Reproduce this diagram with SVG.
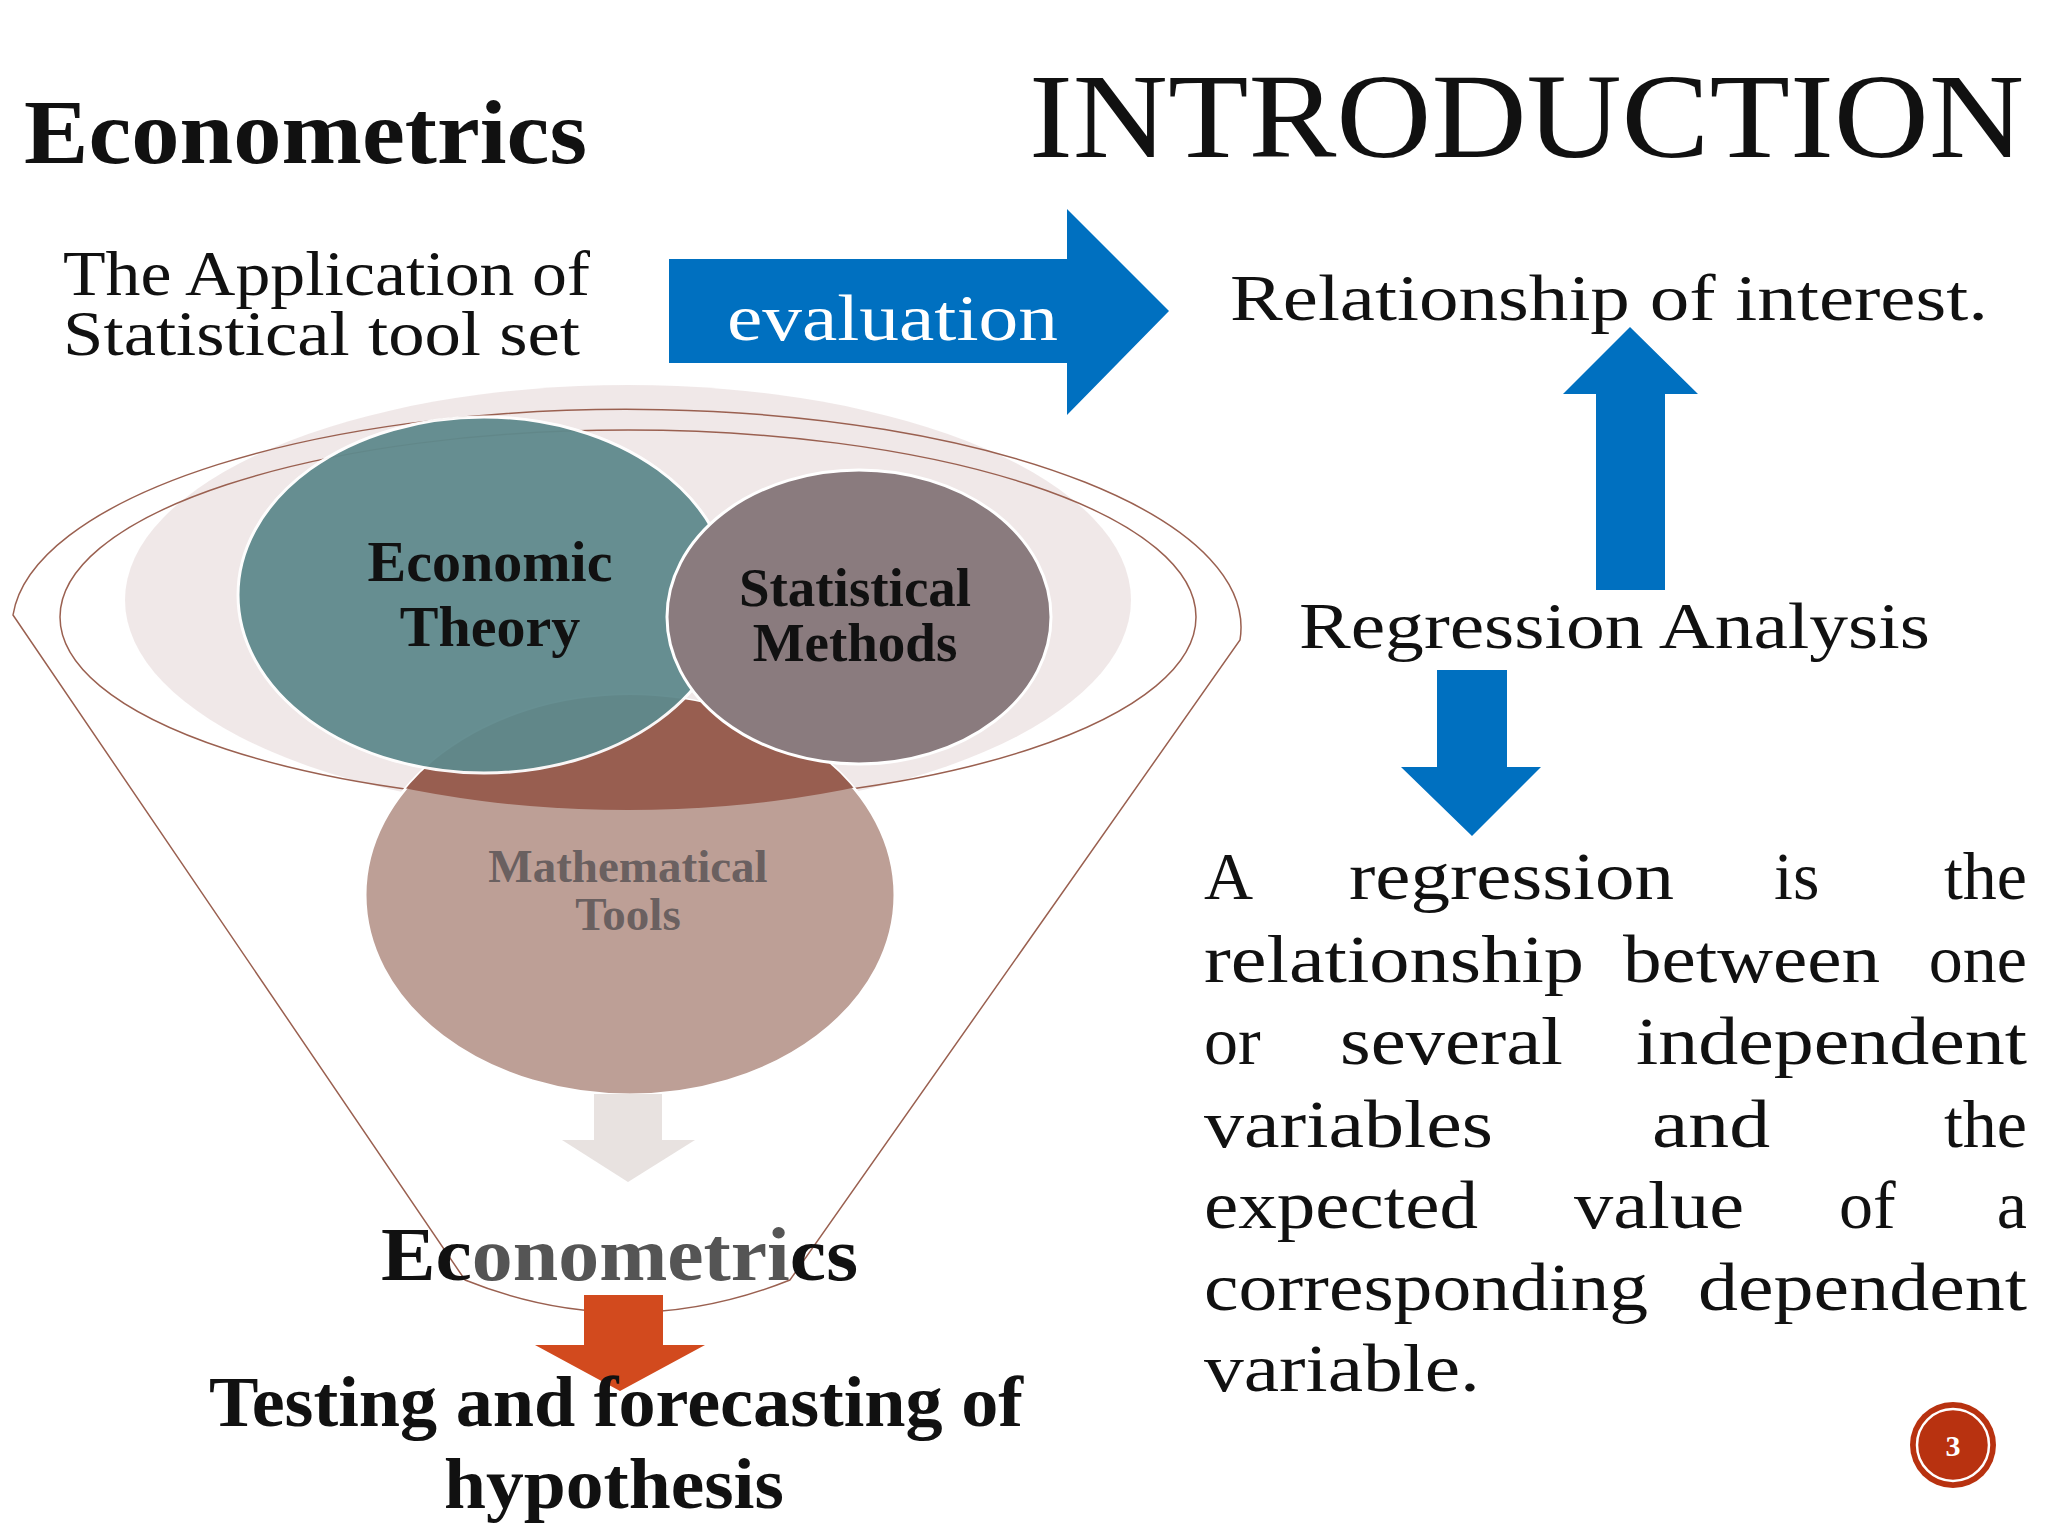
<svg xmlns="http://www.w3.org/2000/svg" width="2048" height="1536" viewBox="0 0 2048 1536">
<style>
text{font-family:"Liberation Serif","DejaVu Serif",serif;fill:#111}
.b{font-weight:bold}
.p{font-size:68px}
.blue{fill:#0070c0}
</style>
<defs>
<clipPath id="ell"><ellipse cx="628" cy="600" rx="503" ry="210"/></clipPath>
</defs>
<rect width="2048" height="1536" fill="#fff"/>
<g id="titles">
<text x="24" y="163" font-size="90" class="b" textLength="563" lengthAdjust="spacingAndGlyphs">Econometrics</text>
<text x="1029" y="157" font-size="120" textLength="995" lengthAdjust="spacingAndGlyphs">INTRODUCTION</text>
<text x="63" y="295" font-size="64" textLength="527" lengthAdjust="spacingAndGlyphs">The Application of</text>
<text x="63" y="355" font-size="64" textLength="517" lengthAdjust="spacingAndGlyphs">Statistical tool set</text>
</g>
<g id="funnel">
<ellipse cx="628" cy="600" rx="503" ry="215" fill="#ece2e2" opacity="0.8"/>
<path d="M13 615 A614 218 0 0 1 1240 640 L790 1280 Q627 1345 465 1280 Z" fill="none" stroke="#9a6050" stroke-width="1.5"/>
<ellipse cx="628" cy="617" rx="568" ry="187" fill="none" stroke="#9a6050" stroke-width="1.5"/>
</g>
<g id="math">
<ellipse cx="630" cy="895" rx="265" ry="200" fill="#bd9f96" stroke="#fff" stroke-width="3"/>
<ellipse cx="630" cy="895" rx="265" ry="200" fill="#985e50" clip-path="url(#ell)"/>
<text x="628" y="882" font-size="47" text-anchor="middle" class="b" style="fill:#6a6060">Mathematical</text>
<text x="628" y="930" font-size="47" text-anchor="middle" class="b" style="fill:#6a6060">Tools</text>
</g>
<g id="econ">
<ellipse cx="484" cy="595" rx="246" ry="178" fill="#5f8a8d" stroke="#fff" stroke-width="3" opacity="0.95"/>
<text x="490" y="581" font-size="58" text-anchor="middle" class="b">Economic</text>
<text x="490" y="646" font-size="58" text-anchor="middle" class="b">Theory</text>
</g>
<g id="stat">
<ellipse cx="859" cy="617" rx="192" ry="147" fill="#8a7b7e" stroke="#fff" stroke-width="3"/>
<text x="855" y="606" font-size="55" text-anchor="middle" class="b">Statistical</text>
<text x="855" y="661" font-size="55" text-anchor="middle" class="b">Methods</text>
</g>
<g id="connectors">
<polygon class="blue" points="669,259 1067,259 1067,209 1169,311 1067,415 1067,363 669,363"/>
<polygon class="blue" points="1596,590 1596,394 1563,394 1630,327 1698,394 1665,394 1665,590"/>
<polygon class="blue" points="1437,670 1507,670 1507,767 1541,767 1472,836 1401,767 1437,767"/>
<polygon fill="#e8e2e0" points="594,1094 662,1094 662,1140 695,1140 628,1182 562,1140 594,1140"/>
<polygon fill="#d24a1e" points="584,1295 663,1295 663,1345 705,1345 620,1391 535,1345 584,1345"/>
</g>
<g id="labels">
<text x="727" y="340" font-size="65" style="fill:#fff" textLength="331" lengthAdjust="spacingAndGlyphs">evaluation</text>
<text x="1230" y="320" font-size="66" textLength="758" lengthAdjust="spacingAndGlyphs">Relationship of interest.</text>
<text x="1299" y="648" font-size="66" textLength="631" lengthAdjust="spacingAndGlyphs">Regression Analysis</text>
<text x="381" y="1280" font-size="76" class="b" textLength="477" lengthAdjust="spacingAndGlyphs">Ec<tspan style="fill:#555">onometri</tspan>cs</text>
<text x="209" y="1426" font-size="72" class="b" textLength="814" lengthAdjust="spacingAndGlyphs">Testing and forecasting of</text>
<text x="444" y="1508" font-size="72" class="b" textLength="340" lengthAdjust="spacingAndGlyphs">hypothesis</text>
</g>
<g id="paragraph">
<text class="p" x="1204" y="899">A</text><text class="p" x="1349" y="899" textLength="325" lengthAdjust="spacingAndGlyphs">regression</text><text class="p" x="1774" y="899">is</text><text class="p" x="2027" y="899" text-anchor="end">the</text>
<text class="p" x="1204" y="982" textLength="380" lengthAdjust="spacingAndGlyphs">relationship</text><text class="p" x="1623" y="982" textLength="257" lengthAdjust="spacingAndGlyphs">between</text><text class="p" x="2027" y="982" text-anchor="end">one</text>
<text class="p" x="1204" y="1064">or</text><text class="p" x="1340" y="1064" textLength="223" lengthAdjust="spacingAndGlyphs">several</text><text class="p" x="1636" y="1064" textLength="391" lengthAdjust="spacingAndGlyphs">independent</text>
<text class="p" x="1204" y="1147" textLength="289" lengthAdjust="spacingAndGlyphs">variables</text><text class="p" x="1652" y="1147" textLength="118" lengthAdjust="spacingAndGlyphs">and</text><text class="p" x="2027" y="1147" text-anchor="end">the</text>
<text class="p" x="1204" y="1228" textLength="274" lengthAdjust="spacingAndGlyphs">expected</text><text class="p" x="1574" y="1228" textLength="170" lengthAdjust="spacingAndGlyphs">value</text><text class="p" x="1839" y="1228">of</text><text class="p" x="2027" y="1228" text-anchor="end">a</text>
<text class="p" x="1204" y="1310" textLength="444" lengthAdjust="spacingAndGlyphs">corresponding</text><text class="p" x="1698" y="1310" textLength="329" lengthAdjust="spacingAndGlyphs">dependent</text>
<text class="p" x="1204" y="1391" textLength="276" lengthAdjust="spacingAndGlyphs">variable.</text>
</g>
<g id="page">
<circle cx="1953" cy="1445" r="43" fill="#b83210"/>
<circle cx="1953" cy="1445" r="36" fill="none" stroke="#fff" stroke-width="2.5"/>
<text x="1953" y="1456" font-size="30" text-anchor="middle" class="b" style="fill:#fff">3</text>
</g>
</svg>
